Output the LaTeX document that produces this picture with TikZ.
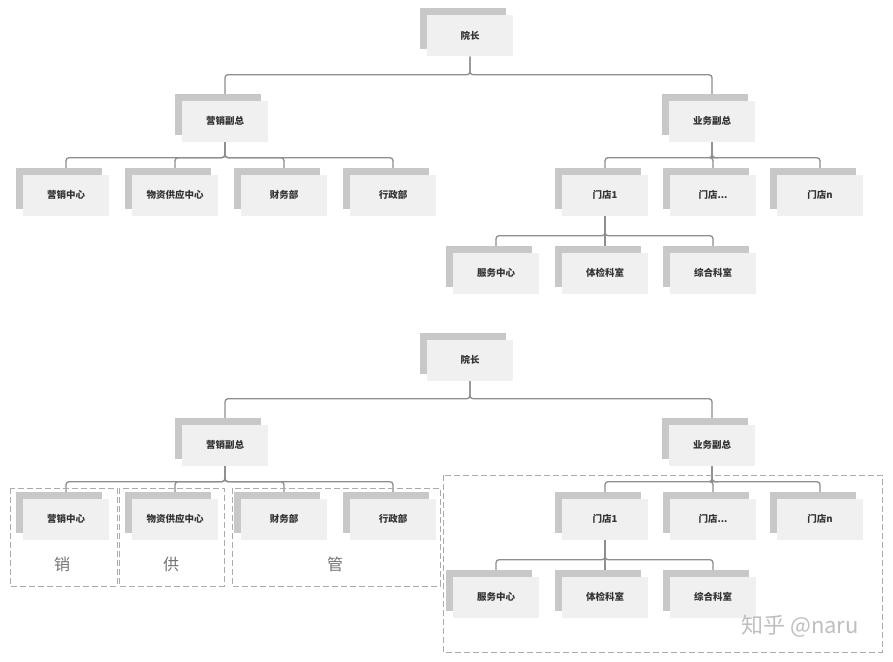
\documentclass[tikz,border=0pt]{standalone}
\usepackage{fontspec}
\setmainfont{Noto Sans CJK SC}
\usetikzlibrary{shadows,backgrounds}
\definecolor{boxfill}{HTML}{F0F0F0}
\definecolor{boxshade}{HTML}{C8C8C8}
\definecolor{linkgray}{HTML}{8E8E8E}
\definecolor{dashgray}{HTML}{ABABAB}
\tikzset{
  unit/.style={fill=boxfill, minimum width=86pt, minimum height=41pt, inner sep=0pt,
    font=\fontsize{9.5}{11}\selectfont\bfseries, text=black!80,
    copy shadow={shadow xshift=-7pt, shadow yshift=7pt, fill=boxshade, draw=none}},
  elbow/.style={to path={(\tikztostart.south) -- ++(0,#1) -| (\tikztotarget.north)}},
  link/.style={draw=linkgray, line width=1.3pt, rounded corners=3pt},
  group/.style={draw=dashgray, line width=0.9pt, dash pattern=on 6pt off 3pt},
  tag/.style={font=\fontsize{16}{18}\selectfont, text=black!55},
}
\begin{document}
\begin{tikzpicture}[x=1pt,y=-1pt]
      \useasboundingbox (0,0) rectangle (893,661);
      % upper chart
      \path[every node/.style=unit]
        (470,36) node (t0){院长}
        (225,121) node (t1){营销副总}
        (712,121) node (t2){业务副总}
        (66,195) node (t3){营销中心}
        (175,195) node (t4){物资供应中心}
        (284,195) node (t5){财务部}
        (393,195) node (t6){行政部}
        (605,195) node (t7){门店1}
        (713,195) node (t8){门店...}
        (820,195) node (t9){门店n}
        (496,273) node (t10){服务中心}
        (605,273) node (t11){体检科室}
        (713,273) node (t12){综合科室};
      % lower chart
      \path[every node/.style=unit]
        (470,360) node (b0){院长}
        (225,445) node (b1){营销副总}
        (712,445) node (b2){业务副总}
        (66,519) node (b3){营销中心}
        (175,519) node (b4){物资供应中心}
        (284,519) node (b5){财务部}
        (393,519) node (b6){行政部}
        (605,519) node (b7){门店1}
        (713,519) node (b8){门店...}
        (820,519) node (b9){门店n}
        (496,597) node (b10){服务中心}
        (605,597) node (b11){体检科室}
        (713,597) node (b12){综合科室};
      \begin{scope}[on background layer]
        \fill[white] (0,0) rectangle (893,661);
      \begin{scope}[link]
        \draw[elbow=18] (t0) to (t1);
        \draw[elbow=18] (t0) to (t2);
        \draw[elbow=16] (t1) to (t3);
        \draw[elbow=16] (t1) to (t4);
        \draw[elbow=16] (t1) to (t5);
        \draw[elbow=16] (t1) to (t6);
        \draw[elbow=16] (t2) to (t7);
        \draw[elbow=16] (t2) to (t8);
        \draw[elbow=16] (t2) to (t9);
        \draw[elbow=20] (t7) to (t10);
        \draw[elbow=20] (t7) to (t11);
        \draw[elbow=20] (t7) to (t12);
        \draw[elbow=18] (b0) to (b1);
        \draw[elbow=18] (b0) to (b2);
        \draw[elbow=16] (b1) to (b3);
        \draw[elbow=16] (b1) to (b4);
        \draw[elbow=16] (b1) to (b5);
        \draw[elbow=16] (b1) to (b6);
        \draw[elbow=16] (b2) to (b7);
        \draw[elbow=16] (b2) to (b8);
        \draw[elbow=16] (b2) to (b9);
        \draw[elbow=20] (b7) to (b10);
        \draw[elbow=20] (b7) to (b11);
        \draw[elbow=20] (b7) to (b12);
      \end{scope}
      \end{scope}
      % groups
      \draw[group] (10,488) rectangle (117,586);
      \draw[group] (119,488) rectangle (224,586);
      \draw[group] (232,488) rectangle (440,586);
      \draw[group] (443,475) rectangle (882,652);
      \node[tag] (xiao) at (62,564) {销};
      \node[tag] (gong) at (171,564) {供};
      \node[tag] (guan) at (335,564) {管};
      \node[font=\fontsize{22}{24}\selectfont, text=black!25] (wm) at (800,626) {知乎 @naru};
    \end{tikzpicture}
\end{document}
